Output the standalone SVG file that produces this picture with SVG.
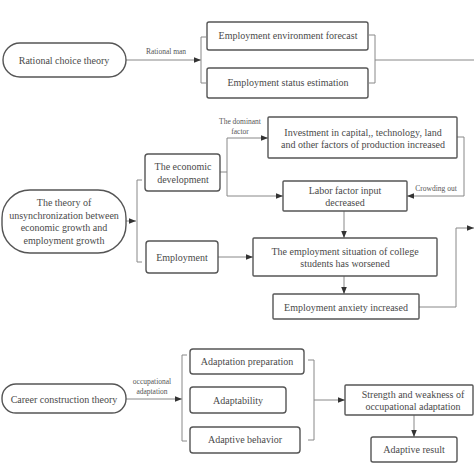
<svg xmlns="http://www.w3.org/2000/svg" width="474" height="474" viewBox="0 0 474 474">
<defs>
<marker id="ah" viewBox="0 0 10 10" refX="10" refY="5" markerWidth="7" markerHeight="7" orient="auto" markerUnits="userSpaceOnUse">
<path d="M0,1 L10,5 L0,9 Z" fill="#333"/>
</marker>
</defs>
<style>
.box{fill:#fff;stroke:#555;stroke-width:1.4}
.t{font-family:"Liberation Serif","Times New Roman",serif;font-size:10px;fill:#4a4a4a;text-anchor:middle}
.l{font-family:"Liberation Serif","Times New Roman",serif;font-size:7.5px;fill:#555;text-anchor:middle}
.c{fill:none;stroke:#888;stroke-width:1}
.a{marker-end:url(#ah)}
</style>
<rect width="474" height="474" fill="#fff"/>

<g id="connectors">
<path class="c a" d="M126,60 H201"/>
<path class="c" d="M206,37 H201 V83 H206"/>
<path class="c" d="M369,35 H375 V83 H369"/>
<path class="c" d="M375,60 H474"/>

<path class="c a" d="M126,221 H136"/>
<path class="c" d="M142,180 H137 V262 H142"/>
<path class="c" d="M220,172 H227"/>
<path class="c a" d="M227,172 V138 H268"/>
<path class="c a" d="M227,172 V196 H283"/>
<path class="c a" d="M457,137 H464 V196 H407"/>
<path class="c a" d="M344,211 V238"/>
<path class="c a" d="M218,257 H253"/>
<path class="c a" d="M344,276 V294"/>
<path class="c a" d="M419,307 H456 V228 H474"/>

<path class="c a" d="M126,399 H182"/>
<path class="c" d="M187,355 H182 V441 H187"/>
<path class="c" d="M308,360 H314 V440 H308"/>
<path class="c a" d="M314,400 H345"/>
<path class="c a" d="M414,415 V437"/>
</g>

<g id="labels">
<text class="l" x="166" y="54">Rational man</text>
<text class="l" x="240" y="124">The dominant</text>
<text class="l" x="240" y="134">factor</text>
<text class="l" x="436" y="191">Crowding out</text>
<text class="l" x="152" y="384">occupational</text>
<text class="l" x="152" y="394">adaptation</text>
</g>

<g id="rational">
<rect class="box" x="3" y="43" width="123" height="34" rx="17"/>
<text class="t" x="64" y="64">Rational choice theory</text>
</g>
<g id="forecast">
<rect class="box" x="207" y="22" width="161" height="28" rx="2"/>
<text class="t" x="288" y="39">Employment environment forecast</text>
</g>
<g id="estimation">
<rect class="box" x="207" y="68" width="161" height="30" rx="2"/>
<text class="t" x="288" y="86">Employment status estimation</text>
</g>

<g id="unsync">
<rect class="box" x="2" y="190" width="124" height="63" rx="28"/>
<text class="t" x="64" y="206">The theory of</text>
<text class="t" x="64" y="218.5">unsynchronization between</text>
<text class="t" x="64" y="231">economic growth and</text>
<text class="t" x="64" y="243.5">employment growth</text>
</g>
<g id="econ">
<rect class="box" x="145" y="154" width="75" height="37" rx="3"/>
<text class="t" x="183" y="170">The economic</text>
<text class="t" x="183" y="183">development</text>
</g>
<g id="investment">
<rect class="box" x="268" y="117" width="189" height="41" rx="1"/>
<text class="t" x="363" y="136">Investment in capital,, technology, land</text>
<text class="t" x="363" y="148">and other factors of production increased</text>
</g>
<g id="labor">
<rect class="box" x="283" y="181" width="124" height="30" rx="1"/>
<text class="t" x="345" y="194">Labor factor input</text>
<text class="t" x="345" y="206">decreased</text>
</g>
<g id="employment">
<rect class="box" x="146" y="241" width="72" height="32" rx="3"/>
<text class="t" x="182" y="261">Employment</text>
</g>
<g id="worsened">
<rect class="box" x="253" y="238" width="184" height="38" rx="1"/>
<text class="t" x="345" y="255">The employment situation of college</text>
<text class="t" x="345" y="267">students has worsened</text>
</g>
<g id="anxiety">
<rect class="box" x="273" y="294" width="146" height="25" rx="1"/>
<text class="t" x="346" y="311">Employment anxiety increased</text>
</g>

<g id="career">
<rect class="box" x="2" y="384" width="124" height="29" rx="14"/>
<text class="t" x="64" y="403">Career construction theory</text>
</g>
<g id="prep">
<rect class="box" x="190" y="349" width="114" height="25" rx="3"/>
<text class="t" x="247" y="365">Adaptation preparation</text>
</g>
<g id="adaptability">
<rect class="box" x="190" y="387" width="96" height="26" rx="3"/>
<text class="t" x="238" y="404">Adaptability</text>
</g>
<g id="behavior">
<rect class="box" x="190" y="427" width="110" height="26" rx="3"/>
<text class="t" x="245" y="443">Adaptive behavior</text>
</g>
<g id="strength">
<rect class="box" x="345" y="385" width="128" height="30" rx="1"/>
<text class="t" x="413" y="398">Strength and weakness of</text>
<text class="t" x="413" y="410">occupational adaptation</text>
</g>
<g id="result">
<rect class="box" x="371" y="437" width="86" height="25" rx="2"/>
<text class="t" x="414" y="453">Adaptive result</text>
</g>
</svg>
